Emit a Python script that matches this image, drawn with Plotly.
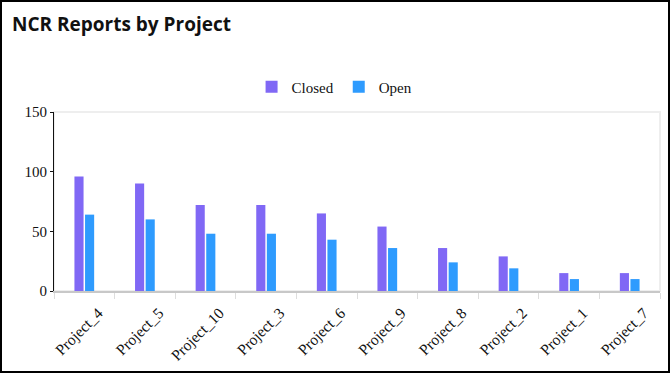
import plotly.graph_objects as go

projects = ["Project_4", "Project_5", "Project_10", "Project_3", "Project_6",
            "Project_9", "Project_8", "Project_2", "Project_1", "Project_7"]
closed = [96, 90, 72, 72, 65, 54, 36, 29, 15, 15]
open_ = [64, 60, 48, 48, 43, 36, 24, 19, 10, 10]
y_ticks = [0, 50, 100, 150]

W, H = 670, 373
L, R, T, B = 54, 10, 112, 82

fig = go.Figure()
fig.add_trace(go.Bar(name="Closed", x=projects, y=closed, marker_color="#8068F5",
                     marker_line_width=0))
fig.add_trace(go.Bar(name="Open", x=projects, y=open_, marker_color="#2E9BFE",
                     marker_line_width=0))

pw = (W - L - R)
ph = (H - T - B)
fig.update_layout(
    width=W, height=H,
    margin=dict(l=L, r=R, t=T, b=B, autoexpand=False),
    paper_bgcolor="white", plot_bgcolor="white",
    barmode="group", bargap=0.65, bargroupgap=0.14,
    title=dict(text="<b>NCR Reports by Project</b>", x=12 / W, xanchor="left",
               y=1 - 24 / H, yanchor="middle",
               font=dict(family="Open Sans", size=19, color="#111")),
    legend=dict(orientation="h", x=0.463, xanchor="center", y=1 + 25 / ph,
                yanchor="middle", font=dict(family="Liberation Serif", size=15, color="#111"),
                itemclick=False),
    font=dict(family="Liberation Serif", size=15, color="#111"),
    xaxis=dict(showline=True, linecolor="#c8c8c8", linewidth=2, automargin=False,
               ticks="outside", tickson="boundaries", ticklen=6, tickcolor="#dddddd",
               tickangle=-45, showgrid=False, ticklabelshift=14, ticklabelstandoff=5,
               tickfont=dict(family="Liberation Serif", size=15.5, color="#111")),
    yaxis=dict(range=[0, 150], tickvals=y_ticks, showline=True, linecolor="#111",
               linewidth=1, ticks="outside", ticklen=3, tickcolor="#111",
               showgrid=False, zeroline=False, automargin=False,
               tickfont=dict(family="Liberation Serif", size=15, color="#111")),
    shapes=[
        dict(type="rect", xref="paper", yref="paper", x0=0, x1=1, y0=0, y1=1,
             line=dict(color="#eeeeee", width=2), layer="below"),
        dict(type="rect", xref="paper", yref="paper",
             x0=-(L - 1) / pw, x1=1 + (R - 1) / pw,
             y0=-(B - 1) / ph, y1=1 + (T - 1) / ph,
             line=dict(color="black", width=2)),
    ],
)

fig.write_html("out.html", config={"displayModeBar": False},
               post_script="document.body.style.margin='0';")
